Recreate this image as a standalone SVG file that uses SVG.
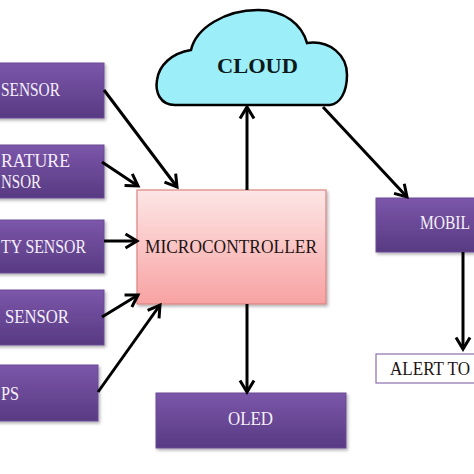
<svg xmlns="http://www.w3.org/2000/svg" width="474" height="474" viewBox="0 0 474 474">
<defs>
<linearGradient id="purp" x1="0" y1="0" x2="0" y2="1">
<stop offset="0" stop-color="#7c56aa"/>
<stop offset="1" stop-color="#573a82"/>
</linearGradient>
<linearGradient id="pink" x1="0" y1="0" x2="0" y2="1">
<stop offset="0" stop-color="#fde6e6"/>
<stop offset="1" stop-color="#f8a2a2"/>
</linearGradient>
<filter id="sh" x="-10%" y="-10%" width="130%" height="140%">
<feDropShadow dx="1.5" dy="2" stdDeviation="1.5" flood-color="#000" flood-opacity="0.3"/>
</filter>
<marker id="ah" markerUnits="userSpaceOnUse" markerWidth="18" markerHeight="18" viewBox="0 0 18 18" refX="15" refY="9" orient="auto">
<path d="M3.5,2 L15,9 L3.5,16" fill="none" stroke="#000" stroke-width="3" stroke-linejoin="miter"/>
</marker>
</defs>
<style>
.pb{fill:url(#purp);stroke:#6a4a96;stroke-width:1;filter:url(#sh)}
.wt{font-family:"Liberation Serif","Times New Roman",serif;font-size:19px;fill:#f6f0fb}
.dk{font-family:"Liberation Serif","Times New Roman",serif;font-size:19px;fill:#1e1414}
.cn{fill:none;stroke:#000;stroke-width:3;marker-end:url(#ah)}
</style>

<g id="cloud">
<path d="M175,105 C160,105 155,92 157,80 C159,65 172,53 191,50 C196,28 225,10 258,10 C285,10 302,25 307,43 C330,40 347,55 347,75 C347,92 340,104 330,105 Z" fill="#9ceff9" stroke="#000" stroke-width="2.5"/>
<text x="217" y="73" font-family="'Liberation Serif','Times New Roman',serif" font-size="22" font-weight="bold" fill="#0c1a1a" textLength="81" lengthAdjust="spacingAndGlyphs">CLOUD</text>
</g>

<g id="sensor1">
<rect class="pb" x="-5" y="63" width="109" height="55"/>
<text class="wt" x="1" y="96" textLength="59" lengthAdjust="spacingAndGlyphs">SENSOR</text>
</g>
<g id="sensor2">
<rect class="pb" x="-5" y="145" width="109" height="53"/>
<text class="wt" x="1" y="167" textLength="69" lengthAdjust="spacingAndGlyphs">RATURE</text>
<text class="wt" x="1" y="188" textLength="40" lengthAdjust="spacingAndGlyphs">NSOR</text>
</g>
<g id="sensor3">
<rect class="pb" x="-5" y="220" width="109" height="53"/>
<text class="wt" x="1" y="253" textLength="85" lengthAdjust="spacingAndGlyphs">TY SENSOR</text>
</g>
<g id="sensor4">
<rect class="pb" x="-5" y="290" width="109" height="55"/>
<text class="wt" x="5" y="323" textLength="64" lengthAdjust="spacingAndGlyphs">SENSOR</text>
</g>
<g id="gps">
<rect class="pb" x="-5" y="365" width="103" height="56"/>
<text class="wt" x="1" y="400" textLength="18" lengthAdjust="spacingAndGlyphs">PS</text>
</g>

<g id="microcontroller">
<rect x="137" y="190" width="189" height="114" fill="url(#pink)" stroke="#d98580" stroke-width="1.2" filter="url(#sh)"/>
<text class="dk" x="145" y="253" textLength="172" lengthAdjust="spacingAndGlyphs">MICROCONTROLLER</text>
</g>

<g id="oled">
<rect class="pb" x="156" y="393" width="190" height="55"/>
<text class="wt" x="228" y="425" textLength="45" lengthAdjust="spacingAndGlyphs">OLED</text>
</g>

<g id="mobile">
<rect class="pb" x="376" y="198" width="110" height="54"/>
<text class="wt" x="420" y="229" textLength="50" lengthAdjust="spacingAndGlyphs">MOBIL</text>
</g>

<g id="alert">
<rect x="376" y="354" width="110" height="29" fill="#fff" stroke="#8a6fae" stroke-width="1.2"/>
<text class="dk" x="390" y="375" textLength="80" lengthAdjust="spacingAndGlyphs">ALERT TO</text>
</g>

<g id="connectors">
<line class="cn" x1="104" y1="90" x2="177" y2="187"/>
<line class="cn" x1="102" y1="162" x2="138" y2="186"/>
<line class="cn" x1="104" y1="241" x2="137" y2="241"/>
<line class="cn" x1="102" y1="317" x2="138" y2="295"/>
<line class="cn" x1="98" y1="392" x2="160" y2="305"/>
<line class="cn" x1="247" y1="190" x2="247" y2="107"/>
<line class="cn" x1="323" y1="107" x2="407" y2="197"/>
<line class="cn" x1="247" y1="304" x2="247" y2="392"/>
<line class="cn" x1="463" y1="252" x2="463" y2="349"/>
</g>
</svg>
